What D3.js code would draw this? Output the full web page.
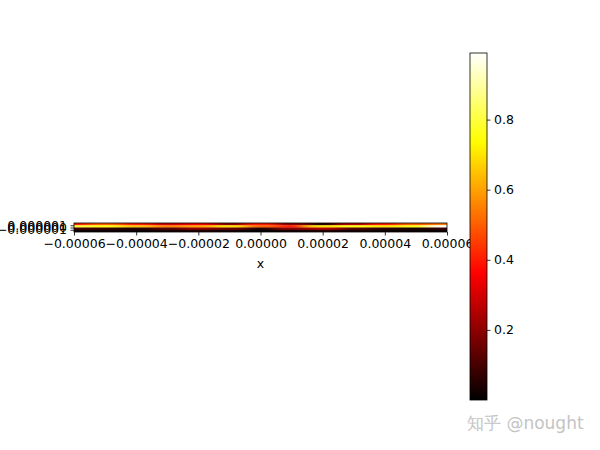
<!DOCTYPE html>
<html>
<head>
<meta charset="utf-8">
<script src="https://cdn.jsdelivr.net/npm/d3@7/dist/d3.min.js"></script>
<style>
  body { margin: 0; background: #fff; }
  svg { display: block; }
  text { font-family: "DejaVu Sans", sans-serif; }
</style>
</head>
<body>
<svg id="chart" width="600" height="450"></svg>
<script>
// ---- data ----
const xCenters = [-0.00006, -0.00005, -0.00004, -0.00003, -0.00002, -0.00001, 0, 0.00001, 0.00002, 0.00003, 0.00004, 0.00005, 0.00006];
const yCenters = [0.0000015, 0.0000005, -0.0000005, -0.0000015];
const row0 = [0.40, 0.50, 0.40, 0.30, 0.35, 0.20, 0.40, 0.20, 0.05, 0.25, 0.40, 0.50, 0.55];
const row1 = [0.80, 0.75, 0.65, 0.55, 0.60, 0.70, 0.50, 0.40, 0.70, 0.75, 0.70, 0.75, 0.99];
const row2 = [0.10, 0.08, 0.05, 0.12, 0.20, 0.15, 0.05, 0.20, 0.25, 0.12, 0.06, 0.04, 0.08];
const row3 = [0.01, 0.01, 0.01, 0.03, 0.05, 0.03, 0.00, 0.03, 0.05, 0.03, 0.01, 0.01, 0.01];
const rows = [row0, row1, row2, row3];
const xTicks = [-0.00006, -0.00004, -0.00002, 0, 0.00002, 0.00004, 0.00006];
const yTicks = [-0.000001, 0, 0.000001];
const cbTicks = [0.2, 0.4, 0.6, 0.8];
const xLabel = "x";
const watermark = "知乎 @nought";

// ---- colormap (matplotlib "hot") ----
function hot(t) {
  const c = v => Math.max(0, Math.min(1, v));
  const r = c(t / 0.365079);
  const g = c((t - 0.365079) / (0.746032 - 0.365079));
  const b = c((t - 0.746032) / (1 - 0.746032));
  return d3.rgb(r * 255, g * 255, b * 255).toString();
}
const allVals = rows.flat();
const vmin = d3.min(allVals), vmax = d3.max(allVals);
const norm = d3.scaleLinear().domain([vmin, vmax]).range([0, 1]).clamp(true);

const svg = d3.select("#chart");
const defs = svg.append("defs");
const font = 12.5;

// ---- main axes ----
const L = 74, R = 447, T = 223, B = 232;
const dx = 0.00001, dy = 0.000001;
const xA = d3.scaleLinear().domain([-0.00006, 0.00006]).range([L, R]);
const y = d3.scaleLinear().domain([-0.000002, 0.000002]).range([B, T]);

defs.append("clipPath").attr("id", "axclip").append("rect")
  .attr("x", L).attr("y", T).attr("width", R - L).attr("height", B - T);
const blur = defs.append("filter").attr("id", "smooth")
  .attr("x", "-5%").attr("y", "-50%").attr("width", "110%").attr("height", "200%");
blur.append("feGaussianBlur").attr("stdDeviation", "7 0.5").attr("edgeMode", "duplicate");

const cells = [];
rows.forEach((row, i) => row.forEach((v, j) => cells.push({ i, j, v })));

const half = (xA(dx) - xA(0)) / 2;
const g = svg.append("g").attr("clip-path", "url(#axclip)").append("g").attr("filter", "url(#smooth)");
g.selectAll("rect.cell").data(cells).join("rect")
  .attr("class", "cell")
  .attr("x", d => xA(xCenters[d.j]) - half - (d.j === 0 ? 20 : 0))
  .attr("width", d => 2 * half + 0.5 + (d.j === 0 || d.j === xCenters.length - 1 ? 20 : 0))
  .attr("y", d => y(yCenters[d.i] + dy / 2) - (d.i === 0 ? 3 : 0))
  .attr("height", d => y(yCenters[d.i] - dy / 2) - y(yCenters[d.i] + dy / 2) + 0.3 + (d.i === 0 || d.i === rows.length - 1 ? 3 : 0))
  .attr("fill", d => hot(norm(d.v)));

svg.append("rect").attr("x", L).attr("y", T).attr("width", R - L).attr("height", B - T)
  .attr("fill", "none").attr("stroke", "#000").attr("stroke-width", 0.8);

const xAxis = d3.axisBottom(xA).tickValues(xTicks).tickSize(3.5).tickPadding(3.5)
  .tickFormat(d => d3.format(".5f")(d).replace("-", "\u2212"));
svg.append("g").attr("transform", `translate(0,${B})`).call(xAxis)
  .call(s => s.select(".domain").remove())
  .call(s => s.selectAll("text").attr("font-size", font).attr("font-family", "DejaVu Sans").attr("fill", "#000"))
  .call(s => s.selectAll("line").attr("stroke", "#000").attr("stroke-width", 0.8));

const yAxis = d3.axisLeft(y).tickValues(yTicks).tickSize(3.5).tickPadding(3.5)
  .tickFormat(d => d3.format(".6f")(d).replace("-", "\u2212"));
svg.append("g").attr("transform", `translate(${L},0)`).call(yAxis)
  .call(s => s.select(".domain").remove())
  .call(s => s.selectAll("text").attr("font-size", font).attr("font-family", "DejaVu Sans").attr("fill", "#000"))
  .call(s => s.selectAll("line").attr("stroke", "#000").attr("stroke-width", 0.8));

svg.append("text").attr("x", (L + R) / 2).attr("y", 268).attr("text-anchor", "middle")
  .attr("font-size", font).text(xLabel);

// ---- colorbar ----
const cbL = 470, cbR = 487, cbT = 53, cbB = 400;
const cy = d3.scaleLinear().domain([vmin, vmax]).range([cbB, cbT]);
const grad = defs.append("linearGradient").attr("id", "cbgrad")
  .attr("x1", 0).attr("y1", 1).attr("x2", 0).attr("y2", 0);
d3.range(0, 1.0001, 0.02).forEach(t => {
  grad.append("stop").attr("offset", t).attr("stop-color", hot(t));
});
svg.append("rect").attr("x", cbL).attr("y", cbT).attr("width", cbR - cbL).attr("height", cbB - cbT)
  .attr("fill", "url(#cbgrad)").attr("stroke", "#000").attr("stroke-width", 0.8);
const cbAxis = d3.axisRight(cy).tickValues(cbTicks).tickSize(3.5).tickPadding(3.5).tickFormat(d3.format(".1f"));
svg.append("g").attr("transform", `translate(${cbR},0)`).call(cbAxis)
  .call(s => s.select(".domain").remove())
  .call(s => s.selectAll("text").attr("font-size", font).attr("font-family", "DejaVu Sans").attr("fill", "#000"))
  .call(s => s.selectAll("line").attr("stroke", "#000").attr("stroke-width", 0.8));

// ---- watermark ----
svg.append("text").attr("x", 467).attr("y", 429).attr("font-size", 17)
  .attr("font-family", "'Noto Sans CJK SC', 'Noto Sans', sans-serif")
  .attr("fill", "#c4c4c4").text(watermark);
</script>
</body>
</html>
